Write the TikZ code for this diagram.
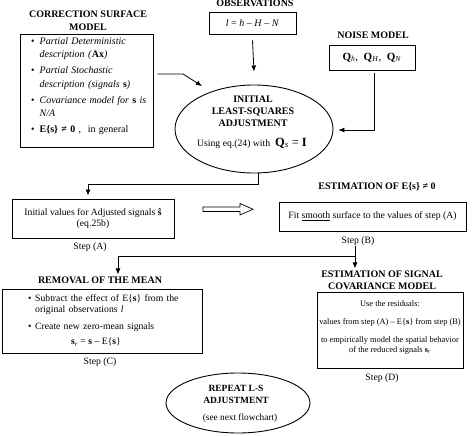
\documentclass[tikz,border=0pt]{standalone}
\usepackage{fontspec}
\setmainfont{Liberation Serif}
\usetikzlibrary{shapes.geometric,arrows.meta,calc}
\newcommand\mybul{\makebox[8.5pt][l]{\textbullet}}
\begin{document}
\begin{tikzpicture}[x=1pt,y=-1pt,
  box/.style={draw,line width=0.9pt,rectangle,inner sep=0pt},
  ttl/.style={font=\fontsize{10}{12}\selectfont\bfseries,align=center,inner sep=0pt},
  txt/.style={font=\fontsize{9.7}{11}\selectfont,align=center,inner sep=0pt},
  lst/.style={font=\fontsize{10}{13.5}\selectfont,align=left,inner sep=0pt,anchor=north west},
  oval/.style={draw,line width=0.9pt,ellipse,inner sep=0pt},
  arr/.style={line width=0.8pt,-{Latex[length=6pt,width=5pt]}},
  ln/.style={line width=0.8pt}]
\useasboundingbox (0,0) rectangle (474,436);

% Correction surface model
\node[ttl,font=\fontsize{10}{13}\selectfont\bfseries] (tcsm) at (88,20.5) {CORRECTION SURFACE\\MODEL};
\node[box,minimum width=133pt,minimum height=113pt] (csm) at (86.5,90.5) {};
\node[lst,text width=118pt] (csmtxt) at (31,37) {%
\hangindent=8.5pt\hangafter=1\noindent\mybul\textit{Partial Deterministic}\newline\textit{description (}\textbf{Ax}\textit{)}\par\vspace{2.5pt}
\hangindent=8.5pt\hangafter=1\noindent\mybul\textit{Partial Stochastic}\newline\textit{description (signals }\textbf{s}\textit{)}\par\vspace{2.5pt}
\hangindent=8.5pt\hangafter=1\noindent\mybul\textit{Covariance model for }\textbf{s}\textit{ is}\newline\textit{N/A}\par\vspace{2.5pt}
\hangindent=8.5pt\hangafter=1\noindent\mybul\textbf{E\{s\} ≠ 0} ,\ \ in general\par};

% Observations
\node[ttl,anchor=base] (tobs) at (255,7) {OBSERVATIONS};
\node[box,minimum width=87pt,minimum height=22pt,font=\fontsize{10}{11}\selectfont] (obs) at (252.5,23) {\textit{l} = \textit{h} – \textit{H} – \textit{N}};

% Noise model
\node[ttl] (tnoise) at (373,35) {NOISE MODEL};
\node[box,minimum width=86pt,minimum height=25pt,font=\fontsize{11}{12}\selectfont] (noise) at (372,57.5) {\textbf{Q}\textsubscript{\textit{h}}, \ \textbf{Q}\textsubscript{\textit{H}}, \ \textbf{Q}\textsubscript{\textit{N}}};

% Initial LS adjustment
\node[oval,minimum width=158pt,minimum height=88pt] (ls) at (254,129) {};
\node[ttl] (tls) at (253,111) {INITIAL\\LEAST-SQUARES\\ADJUSTMENT};
\node[txt] (uls) at (252,143) {Using eq.(24) with \ {\fontsize{12.5}{13}\selectfont\textbf{Q}\textsubscript{\textit{s}} = \textbf{I}}};

% Step A
\node[box,txt,minimum width=162pt,minimum height=39pt] (stepA) at (93,218.5) {Initial values for Adjusted signals \textbf{ŝ}\\(eq.25b)};
\node[txt] (lA) at (90,247) {Step (A)};

% hollow arrow
\draw[line width=0.7pt,fill=white] (203,207) -- (240,207) -- (240,203.5) -- (253,209.25) -- (240,215) -- (240,211.5) -- (203,211.5) -- cycle;

% Step B
\node[ttl] (tE) at (377,187) {ESTIMATION OF E\{s\} ≠ 0};
\node[box,txt,minimum width=187pt,minimum height=29pt] (Ebox) at (372.5,216.5) {Fit \underline{smooth} surface to the values of step (A)};
\node[txt] (lB) at (358,241) {Step (B)};

% Removal of the mean (C)
\node[ttl] (tRem) at (100,280) {REMOVAL OF THE MEAN};
\node[box,minimum width=200pt,minimum height=64pt] (rem) at (102,321) {};
\node[lst,font=\fontsize{9.7}{11}\selectfont,text width=170pt] (remtxt) at (28,294) {%
\hangindent=7pt\hangafter=1\noindent\makebox[7pt][l]{\textbullet}Subtract the effect of E\{\textbf{s}\} from the\newline original observations \textit{l}\par\vspace{6pt}
\hangindent=7pt\hangafter=1\noindent\makebox[7pt][l]{\textbullet}Create new zero-mean signals\par};
\node[txt] (sr) at (96,342) {\textbf{s}\textsubscript{\textit{r}} = \textbf{s} – E\{\textbf{s}\}};
\node[txt] (lC) at (100,362) {Step (C)};

% Covariance model (D)
\node[ttl] (tcov) at (382,280) {ESTIMATION OF SIGNAL\\COVARIANCE MODEL};
\node[box,minimum width=146pt,minimum height=76pt] (cov) at (390,330) {};
\node[txt,font=\fontsize{8.4}{10.5}\selectfont] (covtxt) at (390,327.5) {Use the residuals:\\[8pt]values from step (A) – E\{\textbf{s}\} from step (B)\\[7pt]to empirically model the spatial behavior\\of the reduced signals \textbf{s}\textsubscript{\textit{r}}};
\node[txt] (lD) at (382,378) {Step (D)};

% Repeat
\node[oval,minimum width=144pt,minimum height=60pt] (rep) at (238,403) {};
\node[ttl,font=\fontsize{9.5}{12}\selectfont\bfseries] (trep) at (236,394) {REPEAT L-S\\ADJUSTMENT};
\node[txt,font=\fontsize{9.3}{11}\selectfont] (srep) at (240,418) {(see next flowchart)};

% connectors
\coordinate (k0) at (183,74);
\coordinate (k1) at (202,86);
\coordinate (jA) at (88,184);
\coordinate (jB) at (355,256);
\coordinate (jC) at (118,256);

\draw[arr] ([yshift=-6pt]obs.south) -- ([yshift=13pt]ls.north);
\draw[arr] ([xshift=2pt,yshift=-3pt]noise.south) |- ([xshift=5pt,yshift=-1pt]ls.east);
\draw[arr] ([xshift=4pt,yshift=16.5pt]csm.east) -- (k0) -- (k1);
\draw[arr] ([xshift=4pt]ls.south) |- (jA) -- ([xshift=-5pt,yshift=3pt]stepA.north);
\draw[arr,shorten >=2pt] (lB.south -| jB) -- (tcov.north -| jB);
\draw[arr,shorten >=2pt] (jB) -- (jC) -- (tRem.north -| jC);
\end{tikzpicture}
\end{document}
